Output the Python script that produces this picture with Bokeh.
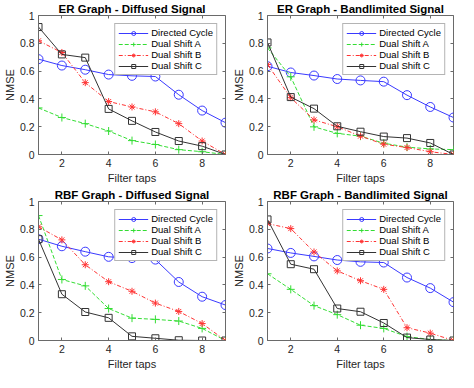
from bokeh.plotting import figure
from bokeh.layouts import gridplot
from bokeh.models import (FixedTicker, CustomJSTickFormatter, LinearAxis, Legend,
                          LegendItem, Range1d)
from bokeh.embed import file_html
from bokeh.resources import INLINE

taps = [1, 2, 3, 4, 5, 6, 7, 8, 9]
series_names = ["Directed Cycle", "Dual Shift A", "Dual Shift B", "Dual Shift C"]
titles = ["ER Graph - Diffused Signal", "ER Graph - Bandlimited Signal",
          "RBF Graph - Diffused Signal", "RBF Graph - Bandlimited Signal"]

er_diff_cycle = [0.686, 0.640, 0.610, 0.575, 0.566, 0.561, 0.430, 0.316, 0.229]
er_diff_a = [0.335, 0.266, 0.222, 0.169, 0.100, 0.072, 0.035, 0.020, 0.0]
er_diff_b = [0.818, 0.734, 0.517, 0.381, 0.342, 0.307, 0.222, 0.097, 0.0]
er_diff_c = [0.917, 0.720, 0.697, 0.328, 0.242, 0.162, 0.097, 0.060, 0.0]

er_band_cycle = [0.635, 0.590, 0.568, 0.543, 0.533, 0.524, 0.427, 0.342, 0.266]
er_band_a = [0.767, 0.559, 0.199, 0.152, 0.132, 0.081, 0.053, 0.040, 0.035]
er_band_b = [0.647, 0.409, 0.249, 0.200, 0.132, 0.074, 0.050, 0.020, 0.0]
er_band_c = [0.806, 0.413, 0.330, 0.203, 0.164, 0.129, 0.118, 0.083, 0.0]

rbf_diff_cycle = [0.729, 0.678, 0.639, 0.602, 0.593, 0.582, 0.421, 0.315, 0.255]
rbf_diff_a = [0.899, 0.439, 0.393, 0.230, 0.161, 0.152, 0.140, 0.087, 0.0]
rbf_diff_b = [0.818, 0.724, 0.545, 0.423, 0.354, 0.269, 0.209, 0.122, 0.0]
rbf_diff_c = [0.729, 0.333, 0.205, 0.163, 0.030, 0.016, 0.002, 0.0, 0.0]

rbf_band_cycle = [0.662, 0.630, 0.605, 0.579, 0.566, 0.561, 0.453, 0.377, 0.276]
rbf_band_a = [0.480, 0.368, 0.251, 0.186, 0.110, 0.087, 0.028, 0.007, 0.0]
rbf_band_b = [0.841, 0.805, 0.637, 0.501, 0.430, 0.368, 0.092, 0.053, 0.0]
rbf_band_c = [0.871, 0.549, 0.513, 0.230, 0.207, 0.126, 0.021, 0.007, 0.0]

x_ticks = [2, 4, 6, 8]
y_ticks = [0, 0.2, 0.4, 0.6, 0.8, 1]

panels = [
    (er_diff_cycle, er_diff_a, er_diff_b, er_diff_c),
    (er_band_cycle, er_band_a, er_band_b, er_band_c),
    (rbf_diff_cycle, rbf_diff_a, rbf_diff_b, rbf_diff_c),
    (rbf_band_cycle, rbf_band_a, rbf_band_b, rbf_band_c),
]

FONT = "Liberation Sans"
TXT = "#262626"
AX = "#6a6a6a"
styles = [
    dict(color="#3a3aff", dash="solid", marker="circle", size=9),
    dict(color="#33dd33", dash="4 2", marker="cross", size=8),
    dict(color="#ff3333", dash="4 2 1 2", marker="asterisk", size=7),
    dict(color="#333333", dash="solid", marker="square", size=7),
]

fmt = CustomJSTickFormatter(code="return String(Math.round(tick*10)/10);")
blank = CustomJSTickFormatter(code="return '';")


def make_panel(title, data, left):
    p = figure(width=229, height=186, output_backend="svg", toolbar_location=None,
               x_range=Range1d(1, 9), y_range=Range1d(0, 1), title=title,
               min_border_left=0, min_border_right=4 if left else 5,
               min_border_top=0, min_border_bottom=1)
    p.title.text_font = FONT
    p.title.text_font_size = "11.5px"
    p.title.text_font_style = "bold"
    p.title.align = "center"
    p.title.text_color = "#000000"
    p.title.standoff = 1
    p.title.offset = 0
    p.xgrid.visible = False
    p.ygrid.visible = False
    p.outline_line_color = AX
    p.outline_line_width = 1
    p.outline_line_alpha = 1
    for ax in (p.xaxis[0], p.yaxis[0]):
        ax.major_tick_in = 3
        ax.major_tick_out = 0
        ax.minor_tick_in = 0
        ax.minor_tick_out = 0
        ax.axis_line_color = AX
        ax.major_tick_line_color = AX
        ax.major_label_text_font = FONT
        ax.major_label_text_font_size = "10.5px"
        ax.major_label_text_color = TXT
        ax.axis_label_text_font = FONT
        ax.axis_label_text_font_size = "11px"
        ax.axis_label_text_font_style = "normal"
        ax.axis_label_text_color = TXT
        ax.major_label_standoff = 4
        ax.axis_label_standoff = 2
    p.yaxis[0].axis_label_standoff = 1
    p.xaxis[0].ticker = FixedTicker(ticks=x_ticks)
    p.yaxis[0].ticker = FixedTicker(ticks=y_ticks)
    p.yaxis[0].formatter = fmt
    p.xaxis[0].axis_label = "Filter taps"
    p.yaxis[0].axis_label = "NMSE"

    # mirrored ticks (MATLAB box style)
    for loc, tk in (("right", y_ticks), ("above", x_ticks)):
        a = LinearAxis(ticker=FixedTicker(ticks=tk), formatter=blank,
                       major_tick_in=3, major_tick_out=0,
                       minor_tick_in=0, minor_tick_out=0,
                       major_label_standoff=0, axis_line_color=None,
                       major_tick_line_color=AX)
        p.add_layout(a, loc)

    items = []
    for name, ys, st in zip(series_names, data, styles):
        ln = p.line(taps, ys, line_color=st["color"], line_dash=st["dash"], line_width=1)
        mk = p.scatter(taps, ys, marker=st["marker"], size=st["size"],
                       line_color=st["color"], fill_color=None, line_width=1)
        items.append(LegendItem(label=name, renderers=[ln, mk]))
    leg = Legend(items=items, location="top_right")
    leg.label_text_font = FONT
    leg.label_text_font_size = "9.5px"
    leg.label_text_color = "#000000"
    leg.border_line_color = AX
    leg.border_line_width = 1
    leg.background_fill_alpha = 1
    leg.glyph_width = 30
    leg.glyph_height = 10
    leg.label_height = 10
    leg.label_standoff = 3
    leg.spacing = 0
    leg.padding = 3
    leg.margin = 8
    p.add_layout(leg, "center")
    return p


figs = [make_panel(t, d, i % 2 == 0) for i, (t, d) in enumerate(zip(titles, panels))]
grid = gridplot([[figs[0], figs[1]], [figs[2], figs[3]]], toolbar_location=None)

open("out.html", "w").write(file_html(grid, INLINE))
